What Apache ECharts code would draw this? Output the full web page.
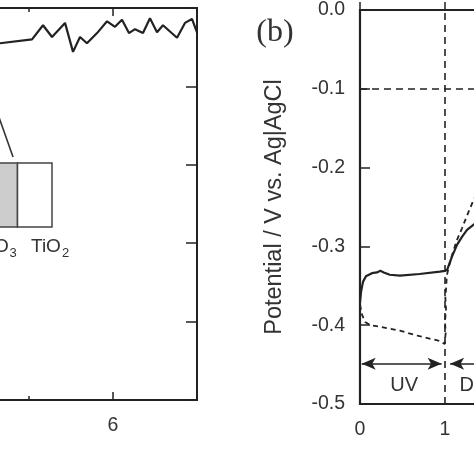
<!DOCTYPE html>
<html><head><meta charset="utf-8">
<script src="https://cdn.jsdelivr.net/npm/echarts@6/dist/echarts.min.js"></script>
<style>html,body{margin:0;padding:0;background:#fff}#c{width:474px;height:474px}</style>
</head><body><div id="c"></div>
<script>
// ---------- Panel (a) (partially visible) ----------
const aX = [4.5, 4.655, 5.036, 5.167, 5.274, 5.429, 5.524, 5.607, 5.690, 5.810, 5.929, 6.024, 6.107, 6.190, 6.262, 6.357, 6.440, 6.524, 6.595, 6.762, 6.857, 6.940, 7.0];
const aY = [4.53, 4.55, 4.60, 4.78, 4.63, 4.81, 4.44, 4.63, 4.55, 4.68, 4.83, 4.76, 4.85, 4.68, 4.73, 4.68, 4.87, 4.69, 4.78, 4.62, 4.81, 4.86, 4.69];
const aPointerX = [4.536, 4.81];
const aPointerY = [3.93, 3.10];
const aTickLabels = ['6'];

// ---------- Panel (b) ----------
const solidX = [0, 0.012, 0.035, 0.07, 0.14, 0.2, 0.24, 0.28, 0.35, 0.47, 0.7, 0.94, 1.0, 1.024, 1.082, 1.141, 1.2, 1.259, 1.341, 1.45];
const solidY = [-0.371, -0.358, -0.345, -0.338, -0.334, -0.333, -0.331, -0.333, -0.336, -0.337, -0.335, -0.332, -0.331, -0.330, -0.313, -0.298, -0.288, -0.279, -0.272, -0.262];
const dashX = [0, 0.025, 0.06, 0.12, 0.235, 0.47, 0.7, 0.94, 0.995, 1.008, 1.0, 1.012, 1.004, 1.015, 1.02, 1.04, 1.08, 1.14, 1.2, 1.27, 1.34, 1.45];
const dashY = [-0.374, -0.387, -0.396, -0.40, -0.402, -0.407, -0.414, -0.42, -0.424, -0.41, -0.395, -0.38, -0.365, -0.35, -0.338, -0.328, -0.312, -0.292, -0.277, -0.258, -0.240, -0.22];
const refLineY = -0.1;
const refLineX = 1;
const arrowY = -0.449;
const uvArrow = [0.02, 0.96];
const darkArrow = [1.06, 3.0];
const periodLabels = ['UV', 'Dark'];
const periodLabelX = [0.52, 1.165];
const periodLabelY = -0.476;
const yTickLabels = ['-0.5', '-0.4', '-0.3', '-0.2', '-0.1', '0.0'];
const xTickLabels = ['0', '1', '2', '3'];

const pair = (xs, ys) => xs.map((x, i) => [x, ys[i]]);
const ink = '#222';
const txt = '#333';
const font = 'Liberation Sans, Arial, Helvetica, sans-serif';

const chart = echarts.init(document.getElementById('c'), null, {renderer: 'canvas'});
chart.setOption({
  animation: false,
  backgroundColor: '#fff',
  grid: [
    {left: -223, width: 420, top: 8, height: 392, outerBoundsMode: 'none', containLabel: false, show: true, borderColor: ink, borderWidth: 2, backgroundColor: 'transparent'},
    {left: 360, width: 255, top: 10, height: 394, outerBoundsMode: 'none', containLabel: false, show: true, borderColor: ink, borderWidth: 2.2, backgroundColor: 'transparent'}
  ],
  xAxis: [
    {gridIndex: 0, type: 'value', position: 'bottom', min: 2, max: 7, interval: 2,
     axisLine: {show: false}, splitLine: {show: false},
     axisTick: {inside: true, length: 8, lineStyle: {color: ink, width: 1.5}},
     axisLabel: {margin: 16, color: txt, fontSize: 19.5, fontFamily: font,
       formatter: v => (aTickLabels.indexOf(String(v)) >= 0 ? String(v) : '')}},
    {gridIndex: 0, type: 'value', position: 'top', min: 2, max: 7, interval: 2,
     axisLine: {show: false}, splitLine: {show: false},
     axisTick: {inside: true, length: 8, lineStyle: {color: ink, width: 1.5}}, axisLabel: {show: false}},
    {gridIndex: 0, type: 'value', position: 'bottom', offset: 0, min: 2, max: 7, interval: 1,
     axisLine: {show: false}, splitLine: {show: false},
     axisTick: {inside: true, length: 4, lineStyle: {color: ink, width: 1.5}}, axisLabel: {show: false}},
    {gridIndex: 0, type: 'value', position: 'top', offset: 0, min: 2, max: 7, interval: 1,
     axisLine: {show: false}, splitLine: {show: false},
     axisTick: {inside: true, length: 4, lineStyle: {color: ink, width: 1.5}}, axisLabel: {show: false}},
    {gridIndex: 1, type: 'value', position: 'bottom', min: 0, max: 3, interval: 1,
     axisLine: {show: false}, splitLine: {show: false},
     axisTick: {inside: true, length: 8, lineStyle: {color: ink, width: 1.5}},
     axisLabel: {margin: 16, color: txt, fontSize: 19.5, fontFamily: font,
       formatter: v => xTickLabels[Math.round(v)] || ''}}
  ],
  yAxis: [
    {gridIndex: 0, type: 'value', position: 'right', min: 0, max: 5, interval: 1,
     axisLine: {show: false}, splitLine: {show: false},
     axisTick: {inside: true, length: 11, lineStyle: {color: ink, width: 1.5}}, axisLabel: {show: false}},
    {gridIndex: 1, type: 'value', position: 'left', min: -0.5, max: 0, interval: 0.1,
     name: 'Potential / V vs. Ag|AgCl', nameLocation: 'middle', nameRotate: 90, nameGap: 73,
     nameTextStyle: {fontSize: 23.5, color: txt, fontFamily: font},
     axisLine: {show: false}, splitLine: {show: false},
     axisTick: {inside: true, length: 10, lineStyle: {color: ink, width: 1.5}},
     axisLabel: {margin: 15, color: txt, fontSize: 19.5, fontFamily: font,
       formatter: v => yTickLabels[Math.round((v + 0.5) * 10)] || ''}}
  ],
  series: [
    {type: 'line', xAxisIndex: 0, yAxisIndex: 0, data: pair(aX, aY), symbol: 'none',
     lineStyle: {color: ink, width: 2.2}},
    {type: 'line', xAxisIndex: 0, yAxisIndex: 0, data: pair(aPointerX, aPointerY), symbol: 'none',
     lineStyle: {color: '#333', width: 1.6}},
    {type: 'line', xAxisIndex: 4, yAxisIndex: 1, data: pair(solidX, solidY), symbol: 'none',
     lineStyle: {color: ink, width: 2.2},
     markLine: {silent: true, symbol: 'none', label: {show: false},
       lineStyle: {color: ink, width: 1.6, type: [7, 5]},
       data: [{yAxis: refLineY}, {xAxis: refLineX}]}},
    {type: 'line', xAxisIndex: 4, yAxisIndex: 1, data: pair(dashX, dashY), symbol: 'none',
     lineStyle: {color: ink, width: 1.8, type: [5, 4]},
     markLine: {silent: true, symbol: ['arrow', 'arrow'], symbolSize: [9, 14], label: {show: false},
       lineStyle: {color: ink, width: 1.5, type: 'solid'},
       data: [
         [{coord: [uvArrow[0], arrowY]}, {coord: [uvArrow[1], arrowY]}],
         [{coord: [darkArrow[0], arrowY]}, {coord: [darkArrow[1], arrowY]}]
       ]},
     markPoint: {silent: true, symbol: 'circle', symbolSize: 1, itemStyle: {color: 'rgba(0,0,0,0)'},
       label: {show: true, formatter: '{b}', color: txt, fontSize: 20, fontFamily: font},
       data: [
         {name: periodLabels[0], coord: [periodLabelX[0], periodLabelY], label: {position: 'inside'}},
         {name: periodLabels[1], coord: [periodLabelX[1], periodLabelY], label: {position: 'right', distance: 0}}
       ]}}
  ],
  graphic: [
    {type: 'rect', shape: {x: -30, y: 163, width: 47.5, height: 64}, style: {fill: '#cdcdcd', stroke: '#444', lineWidth: 1.5}, z: 10},
    {type: 'rect', shape: {x: 17.5, y: 163, width: 34.5, height: 64}, style: {fill: '#fff', stroke: '#444', lineWidth: 1.5}, z: 10},
    {type: 'text', left: -24, top: 237, style: {text: 'WO', fontSize: 19, fontFamily: font, fill: txt}, z: 10},
    {type: 'text', left: 9.5, top: 247, style: {text: '3', fontSize: 13, fontFamily: font, fill: txt}, z: 10},
    {type: 'text', left: 31, top: 237, style: {text: 'TiO', fontSize: 19, fontFamily: font, fill: txt}, z: 10},
    {type: 'text', left: 62, top: 247, style: {text: '2', fontSize: 13, fontFamily: font, fill: txt}, z: 10},
    {type: 'text', x: 275, y: 33, style: {text: '(b)', fontSize: 32, fontFamily: 'Liberation Serif, Times New Roman, serif', fill: txt, align: 'center', verticalAlign: 'middle'}, z: 10}
  ]
});
</script>
</body></html>
